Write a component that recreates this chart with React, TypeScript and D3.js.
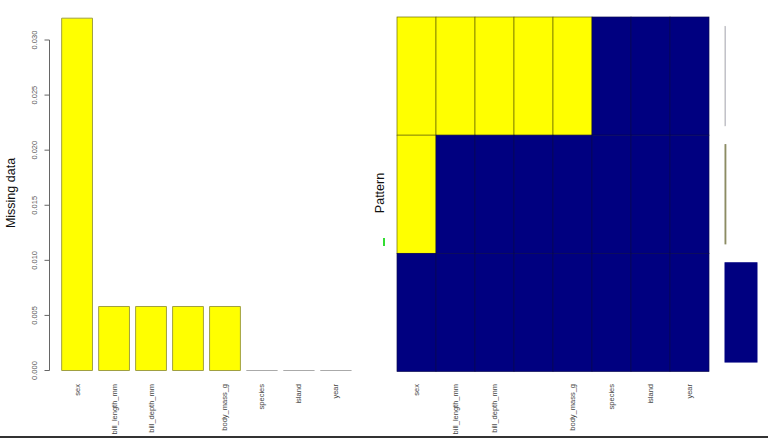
import React from "react";
import * as d3 from "d3";

const variables = ["sex", "bill_length_mm", "bill_depth_mm", "flipper_length_mm", "body_mass_g", "species", "island", "year"];
const axisLabels = ["sex", "bill_length_mm", "bill_depth_mm", "", "body_mass_g", "species", "island", "year"];
const missingProp = [0.03198, 0.00581, 0.00581, 0.00581, 0.00581, 0, 0, 0];
const yTicks = [0, 0.005, 0.01, 0.015, 0.02, 0.025, 0.03];
// patterns: 1 = missing, 0 = observed
const patterns = [
  [1, 1, 1, 1, 1, 0, 0, 0],
  [1, 0, 0, 0, 0, 0, 0, 0],
  [0, 0, 0, 0, 0, 0, 0, 0],
];
const patternProp = [0.0058, 0.0262, 0.968];
const patternStroke = ["#bdbdbd", "#8c8c64", "#000080"];

const W = 768, H = 439;
const FONT = "'Liberation Sans', Arial, Helvetica, sans-serif";
const YELLOW = "#ffff00", NAVY = "#000080";

function boxPath(x: number, y: number, w: number, h: number) {
  const p = d3.path();
  p.moveTo(x, y);
  p.lineTo(x + w, y);
  p.lineTo(x + w, y + h);
  p.lineTo(x, y + h);
  p.closePath();
  return p.toString();
}

export default function App() {
  // left panel
  const xL = d3.scaleBand<string>().domain(variables).range([55.5, 357.5]).paddingInner(0.1667).paddingOuter(0.1667);
  const yL = d3.scaleLinear().domain([0, 0.03]).range([370.5, 40]);
  // right grid
  const xR = d3.scaleBand<string>().domain(variables).range([397, 709]);
  const rowIdx = patterns.map((_, i) => String(i));
  const yR = d3.scaleBand<string>().domain(rowIdx).range([17, 371.5]);
  const yRb = d3.scaleBand<string>().domain(rowIdx).range([17, 371.5]).paddingInner(0.16).paddingOuter(0.08);
  const xP = d3.scaleLinear().domain([0, 0.968]).range([725, 757]);

  return (
    <svg width={W} height={H} style={{ position: "absolute", left: 0, top: 0, background: "#fff" }} fontFamily={FONT}>
      <rect x={0} y={0} width={W} height={H} fill="#fff" />
      {/* left: y axis */}
      <line x1={49.5} x2={49.5} y1={yL(0)} y2={yL(0.03)} stroke="#666" strokeWidth={1} />
      {yTicks.map((t) => (
        <g key={t}>
          <line x1={44.5} x2={49.5} y1={yL(t)} y2={yL(t)} stroke="#666" />
          <text transform={`translate(37,${yL(t)}) rotate(-90)`} textAnchor="middle" fontSize={7.5} fill="#555">
            {d3.format(".3f")(t)}
          </text>
        </g>
      ))}
      <text transform={`translate(15,193) rotate(-90)`} textAnchor="middle" fontSize={12.5} fill="#111">Missing data</text>
      {variables.map((v, i) => (
        <path key={v} d={boxPath(xL(v) as number, yL(missingProp[i]), xL.bandwidth(), yL(0) - yL(missingProp[i]))}
          fill={YELLOW} stroke={missingProp[i] > 0 ? "#a0a040" : "#aaaaaa"} strokeWidth={1} />
      ))}
      {axisLabels.map((l, i) => (
        <text key={i} transform={`translate(${(xL(variables[i]) as number) + xL.bandwidth() / 2 + 2.5},384) rotate(-90)`}
          textAnchor="end" fontSize={7.5} fill="#444">{l}</text>
      ))}

      {/* right: pattern grid */}
      <text transform={`translate(384,193) rotate(-90)`} textAnchor="middle" fontSize={12.5} fill="#111">Pattern</text>
      <line x1={384} x2={384} y1={238} y2={246} stroke="#33dd33" strokeWidth={2} />
      {patterns.map((row, r) =>
        row.map((m, c) => (
          <rect key={`${r}-${c}`} x={xR(variables[c])} y={yR(String(r))} width={xR.bandwidth()} height={yR.bandwidth()}
            fill={m ? YELLOW : NAVY} stroke={m ? "#6b6b00" : "#0a0a50"} strokeWidth={0.7} />
        ))
      )}
      {axisLabels.map((l, i) => (
        <text key={i} transform={`translate(${(xR(variables[i]) as number) + xR.bandwidth() / 2 + 2.5},384) rotate(-90)`}
          textAnchor="end" fontSize={7.5} fill="#444">{l}</text>
      ))}
      {patternProp.map((p, r) => (
        <rect key={r} x={xP(0)} y={yRb(String(r))} width={xP(p) - xP(0)} height={yRb.bandwidth()}
          fill={NAVY} stroke={patternStroke[r]} strokeWidth={1} />
      ))}

      {/* bottom frame line */}
      <rect x={0} y={436} width={W} height={2} fill="#333" />
    </svg>
  );
}
